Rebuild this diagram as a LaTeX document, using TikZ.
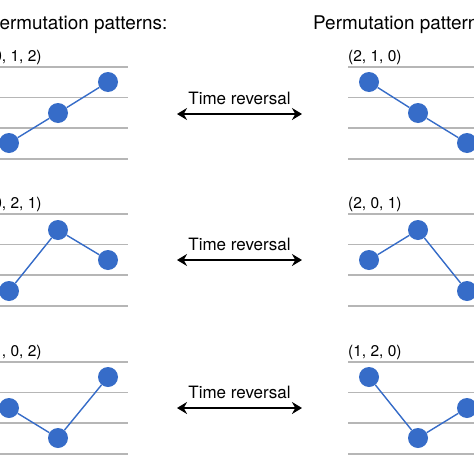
\documentclass[tikz,border=0pt]{standalone}
\usepackage{fontspec}
\setmainfont{TeX Gyre Heros}
\usetikzlibrary{arrows.meta}
\definecolor{dotblue}{RGB}{54,108,200}
\definecolor{rulegray}{RGB}{182,182,182}
\begin{document}
\begin{tikzpicture}[x=1pt,y=-1pt,
  dot/.style={circle,fill=dotblue,draw=none,minimum size=20pt,inner sep=0pt},
  link/.style={draw=dotblue,line width=1.4pt},
  rulel/.style={draw=rulegray,line width=1.6pt},
  ttl/.style={anchor=base west,inner sep=0pt,font=\fontsize{18.9}{21}\selectfont},
  lab/.style={anchor=base west,inner sep=0pt,font=\fontsize{15.5}{18}\selectfont},
  trtxt/.style={anchor=base,inner sep=0pt,font=\fontsize{17}{20}\selectfont},
  revarrow/.style={line width=2.8pt,{Stealth[length=10pt,width=12pt]}-{Stealth[length=10pt,width=12pt]}}]
\useasboundingbox (0,0) rectangle (474,474);
\clip (0,0) rectangle (474,474);
\fill[white] (0,0) rectangle (474,474);

% titles
\node[ttl] (tl) at (-12.6,29) {Permutation patterns:};
\node[ttl] (tr) at (313,29) {Permutation patterns:};

% rules
\foreach \t in {67,214,362}{
  \foreach \d in {0,30.6,61.2,91.8}{
    \draw[rulel] (-12,\t+\d) -- (128,\t+\d);
    \draw[rulel] (348,\t+\d) -- (490,\t+\d);
  }
}

% labels
\node[lab] (l1) at (-12,61) {(0, 1, 2)};
\node[lab] (r1) at (348,61) {(2, 1, 0)};
\node[lab] (l2) at (-12,208) {(0, 2, 1)};
\node[lab] (r2) at (348,208) {(2, 0, 1)};
\node[lab] (l3) at (-12,356) {(1, 0, 2)};
\node[lab] (r3) at (348,356) {(1, 2, 0)};

% panel 1 (top = 67)
\node[dot] (a1) at (9,143) {};
\node[dot] (a2) at (58,113) {};
\node[dot] (a3) at (108,82) {};
\draw[link] (a1) -- (a2) -- (a3);
\node[dot] (b1) at (369,82) {};
\node[dot] (b2) at (418,113) {};
\node[dot] (b3) at (467,143) {};
\draw[link] (b1) -- (b2) -- (b3);

% panel 2 (top = 214)
\node[dot] (c1) at (9,291) {};
\node[dot] (c2) at (58,230) {};
\node[dot] (c3) at (108,260) {};
\draw[link] (c1) -- (c2) -- (c3);
\node[dot] (d1) at (369,260) {};
\node[dot] (d2) at (418,230) {};
\node[dot] (d3) at (467,291) {};
\draw[link] (d1) -- (d2) -- (d3);

% panel 3 (top = 362)
\node[dot] (e1) at (9,408) {};
\node[dot] (e2) at (58,438) {};
\node[dot] (e3) at (108,377) {};
\draw[link] (e1) -- (e2) -- (e3);
\node[dot] (f1) at (369,377) {};
\node[dot] (f2) at (418,438) {};
\node[dot] (f3) at (467,408) {};
\draw[link] (f1) -- (f2) -- (f3);

% time reversal arrows
\foreach \y/\n in {114/1,260/2,408/3}{
  \coordinate (s\n) at (177,\y);
  \coordinate (t\n) at (302,\y);
  \draw[revarrow] (s\n) -- (t\n);
  \node[trtxt] (txt\n) at (239.5,\y-10) {Time reversal};
}
\end{tikzpicture}
\end{document}
